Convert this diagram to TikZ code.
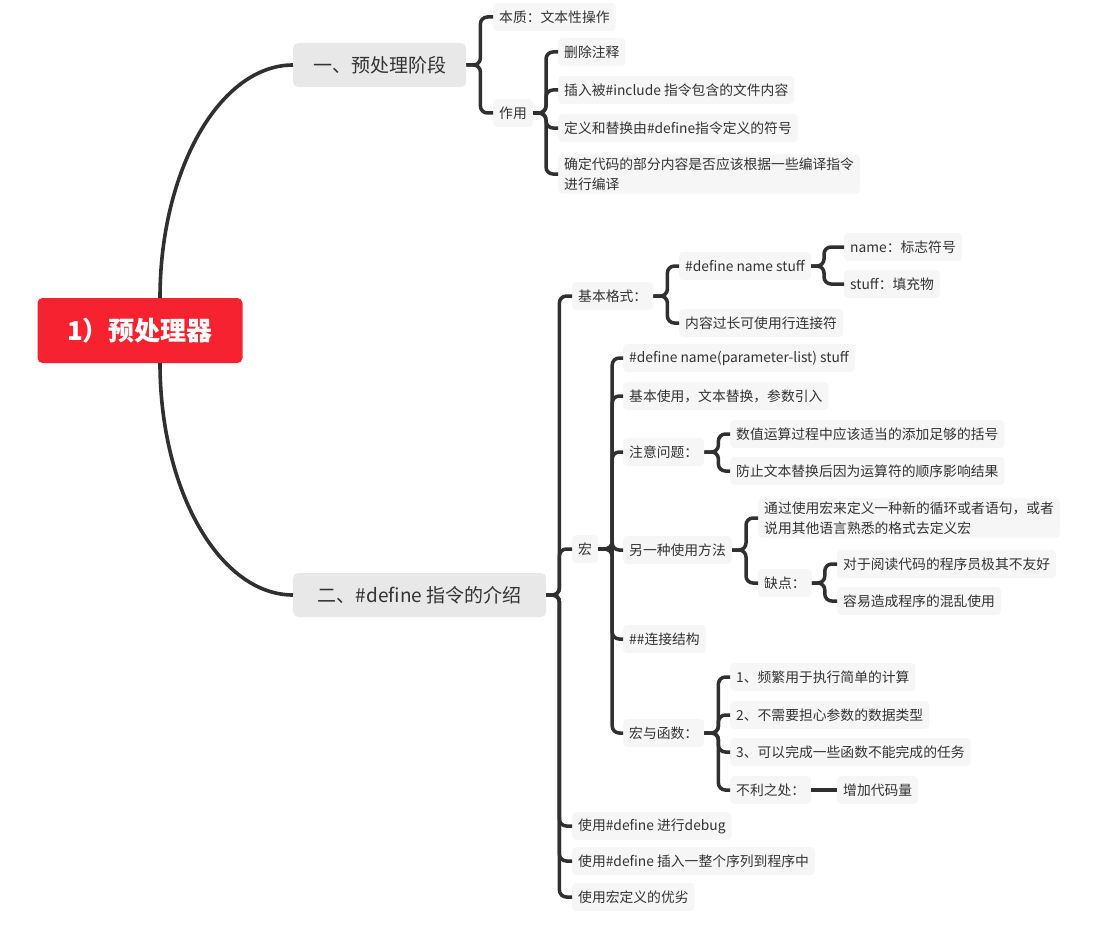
\documentclass[tikz,border=0pt]{standalone}
\usepackage{fontspec}
\setmainfont{Noto Sans CJK SC}

\definecolor{rootred}{RGB}{246,34,47}
\definecolor{mainfill}{RGB}{232,232,232}
\definecolor{subfill}{RGB}{246,246,246}
\definecolor{ink}{RGB}{51,51,51}
\definecolor{wire}{RGB}{48,48,48}

\tikzset{
  rootbox/.style={fill=rootred, text=white, rounded corners=5pt, minimum width=205pt,
    minimum height=65pt, font=\fontsize{26}{30}\selectfont\bfseries},
  mainbox/.style={anchor=west, fill=mainfill, text=ink, rounded corners=5pt, inner xsep=18pt,
    minimum height=44pt, font=\fontsize{19}{23}\selectfont},
  subbox/.style={anchor=west, fill=subfill, text=ink, rounded corners=4pt, inner xsep=6pt,
    minimum height=28pt, align=left, font=\fontsize{13.8}{19.5}\selectfont},
  trunk/.style={draw=wire, line width=3.6pt},
  branch/.style={draw=wire, line width=3.5pt, rounded corners=7pt},
}

\begin{document}
\begin{tikzpicture}[x=1pt, y=-1pt]
  \useasboundingbox (0,0) rectangle (1115,931);

  % centre and first level
  \node[rootbox] (root) at (140,330.5) {1）预处理器};
  \node[mainbox, minimum width=173pt] (pre) at (293,65) {一、预处理阶段};
  \node[mainbox, minimum width=253pt] (def) at (293,595) {二、\#define 指令的介绍};
  \coordinate (roottop) at (160,298);
  \coordinate (rootbot) at (160,363);

  % preprocessing stage
  \node[subbox] (essence) at (493,17) {本质：文本性操作};
  \node[subbox] (usage) at (493,113) {作用};
  \node[subbox] (rmcomm) at (558,52) {删除注释};
  \node[subbox] (incl) at (558,90) {插入被\#include 指令包含的文件内容};
  \node[subbox] (subst) at (558,128) {定义和替换由\#define指令定义的符号};
  \node[subbox] (cond) at (558,174) {确定代码的部分内容是否应该根据一些编译指令\\进行编译};

  % #define
  \node[subbox] (fmt) at (572,296) {基本格式：};
  \node[subbox] (macro) at (572,549) {宏};
  \node[subbox] (debug) at (572,826) {使用\#define 进行debug};
  \node[subbox] (seq) at (572,861) {使用\#define 插入一整个序列到程序中};
  \node[subbox] (pros) at (572,897) {使用宏定义的优劣};

  \node[subbox] (plain) at (679,266) {\#define name stuff};
  \node[subbox] (longln) at (679,323) {内容过长可使用行连接符};
  \node[subbox] (name) at (844,247) {name：标志符号};
  \node[subbox] (stuff) at (844,284) {stuff：填充物};

  \node[subbox] (param) at (623,358) {\#define name(parameter-list) stuff};
  \node[subbox] (basic) at (623,396) {基本使用，文本替换，参数引入};
  \node[subbox] (caution) at (623,452) {注意问题：};
  \node[subbox] (other) at (623,550) {另一种使用方法};
  \node[subbox] (concat) at (623,639) {\#\#连接结构};
  \node[subbox] (vsfunc) at (623,733) {宏与函数：};

  \node[subbox] (paren) at (730,434) {数值运算过程中应该适当的添加足够的括号};
  \node[subbox] (order) at (730,471) {防止文本替换后因为运算符的顺序影响结果};
  \node[subbox] (loop) at (758,518) {通过使用宏来定义一种新的循环或者语句，或者\\说用其他语言熟悉的格式去定义宏};
  \node[subbox] (cons) at (758,583) {缺点：};
  \node[subbox] (unfriendly) at (837,564) {对于阅读代码的程序员极其不友好};
  \node[subbox] (messy) at (837,601) {容易造成程序的混乱使用};

  \node[subbox] (simple) at (730,677) {1、频繁用于执行简单的计算};
  \node[subbox] (notype) at (730,715) {2、不需要担心参数的数据类型};
  \node[subbox] (cando) at (730,752) {3、可以完成一些函数不能完成的任务};
  \node[subbox] (drawback) at (730,790) {不利之处：};
  \node[subbox] (bigger) at (837,790) {增加代码量};

  % connectors
  \draw[trunk] (roottop) .. controls (160,170) and (220,65) .. (pre.west);
  \draw[trunk] (rootbot) .. controls (160,491) and (220,595) .. (def.west);

  \foreach \c in {essence,usage}
    \draw[branch] (pre.east) -- ++(14,0) |- (\c.west);
  \foreach \c in {rmcomm,incl,subst,cond}
    \draw[branch] (usage.east) -- ++(13,0) |- (\c.west);
  \foreach \c in {fmt,macro,debug,seq,pros}
    \draw[branch] (def.east) -- ++(13,0) |- (\c.west);
  \foreach \c in {plain,longln}
    \draw[branch] (fmt.east) -- ++(14,0) |- (\c.west);
  \foreach \c in {name,stuff}
    \draw[branch] (plain.east) -- ++(13,0) |- (\c.west);
  \foreach \c in {param,basic,caution,other,concat,vsfunc}
    \draw[branch] (macro.east) -- ++(14,0) |- (\c.west);
  \foreach \c in {paren,order}
    \draw[branch] (caution.east) -- ++(14,0) |- (\c.west);
  \foreach \c in {loop,cons}
    \draw[branch] (other.east) -- ++(14,0) |- (\c.west);
  \foreach \c in {unfriendly,messy}
    \draw[branch] (cons.east) -- ++(13,0) |- (\c.west);
  \foreach \c in {simple,notype,cando,drawback}
    \draw[branch] (vsfunc.east) -- ++(14,0) |- (\c.west);
  \draw[branch] (drawback.east) -- (bigger.west);
\end{tikzpicture}
\end{document}
